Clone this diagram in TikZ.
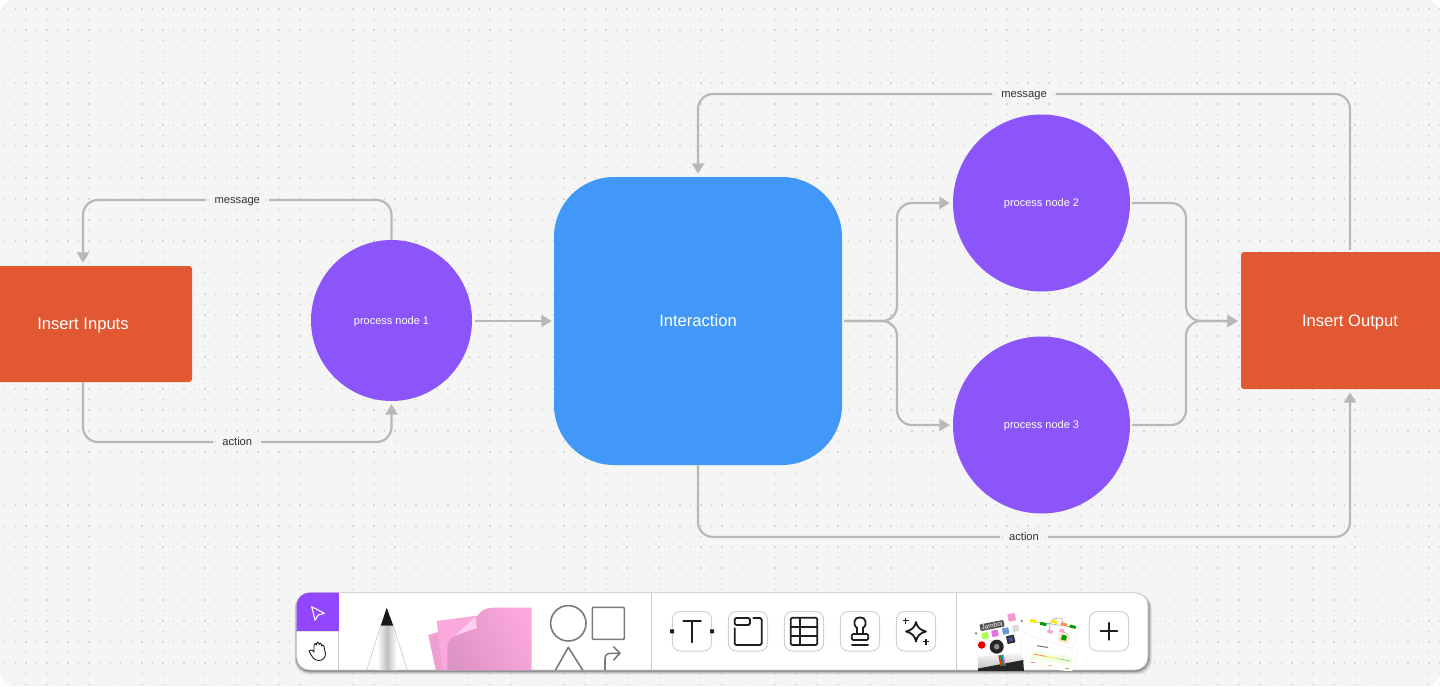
\documentclass[tikz,border=0pt]{standalone}
\usepackage{fontspec}
\setmainfont{Liberation Sans}
\usetikzlibrary{arrows.meta}
\definecolor{bgc}{HTML}{F5F5F5}
\definecolor{dotc}{HTML}{D6D6D6}
\definecolor{linec}{HTML}{B8B8B8}
\definecolor{orangec}{HTML}{E15832}
\definecolor{purplec}{HTML}{8B55F9}
\definecolor{bluec}{HTML}{4298F9}
\definecolor{btnc}{HTML}{9247FF}
\definecolor{iconc}{HTML}{1E1E1E}
\definecolor{shapec}{HTML}{7A7A7A}
\definecolor{pinkc}{HTML}{FBA8DC}
\definecolor{pinkd}{HTML}{DE94C4}
\definecolor{sepc}{HTML}{C8C8C8}
\newcommand{\tile}[6]{\fill[#1,rounded corners=0.6pt,rotate around={#6:(#2,#3)}] ({#2-#4/2},{#3-#5/2}) rectangle ({#2+#4/2},{#3+#5/2});}
\tikzset{
  x=1pt,y=-1pt,
  bigtxt/.style={text=white,text height=11.8pt,text depth=0pt,font=\fontsize{16.6}{18}\selectfont},
  redbox/.style={bigtxt,fill=orangec,rounded corners=3pt,minimum width=218pt,inner xsep=0pt,inner ysep=0pt},
  proc/.style={circle,fill=purplec,inner sep=0pt,text=white,text height=7.8pt,text depth=0pt,font=\fontsize{11}{12}\selectfont},
  centre/.style={bigtxt,rectangle,fill=bluec,rounded corners=60pt,minimum size=288pt,inner sep=0pt},
  conn/.style={draw=linec,line width=2.2pt,rounded corners=15pt,-{Triangle[length=10.5pt,width=12pt]}},
  lbl/.style={fill=bgc,inner xsep=9pt,inner ysep=3pt,text=black!80,text height=7.8pt,text depth=0pt,font=\fontsize{11.2}{12}\selectfont},
  toolbox/.style={draw=black!18,line width=1pt,fill=white,rounded corners=8pt,minimum size=39.4pt,inner sep=0pt},
  ico/.style={draw=iconc,line width=1.8pt,line cap=round,line join=round,rounded corners=1.5pt},
  shp/.style={draw=shapec,line width=1.6pt,line join=round},
}
\begin{document}
\begin{tikzpicture}
\useasboundingbox (0,0) rectangle (1440,686);
\fill[white] (0,0) rectangle (1440,686);
\fill[bgc,rounded corners=14pt] (0,0) rectangle (1440,686);
% dot grid
\foreach \j in {0,...,64}
  \draw[dotc,line width=1.4pt,dash pattern=on 1.4pt off 9.15pt] (4,{9+10.55*\j}) -- (1440,{9+10.55*\j});

% nodes
\node[redbox,minimum height=116pt] (inputs) at (83,324) {Insert Inputs};
\node[redbox,minimum height=137pt] (output) at (1350,320.5) {Insert Output};
\node[proc,minimum size=161pt] (p1) at (391.5,320.5) {process node 1};
\node[centre] (inter) at (698,321) {Interaction};
\node[proc,minimum size=177pt] (p2) at (1041.5,203) {process node 2};
\node[proc,minimum size=177pt] (p3) at (1041.5,425) {process node 3};

% connectors
\path[conn,shorten >=3pt] (p1.north) -- (p1.north |- 0,200)
   -- node[lbl,pos=0.5] {message} (inputs.north |- 0,200) -- (inputs.north);
\path[conn,shorten >=3pt] (inputs.south) -- (inputs.south |- 0,442)
   -- node[lbl,pos=0.5] {action} (p1.south |- 0,442) -- (p1.south);
\path[conn,shorten <=3pt,shorten >=2pt] (p1.east |- inter.west) -- (inter.west);
\coordinate (jl) at (897,321);
\coordinate (jr) at (1186,321);
\path[conn,shorten <=2pt,shorten >=3pt] (inter.east) -- (jl) -- (jl |- p2.west) -- (p2.west);
\path[conn,shorten <=2pt,shorten >=3pt] (inter.east) -- (jl) -- (jl |- p3.west) -- (p3.west);
\path[conn,shorten <=2pt,shorten >=3pt] (p2.east) -- (jr |- p2.east) -- (jr) -- (output.west |- jr);
\path[conn,shorten <=2pt,shorten >=3pt] (p3.east) -- (jr |- p3.east) -- (jr) -- (output.west |- jr);
\path[conn,shorten <=2pt,shorten >=3pt] (output.north) -- (output.north |- 0,94)
   -- node[lbl,pos=0.5] {message} (inter.north |- 0,94) -- (inter.north);
\path[conn,shorten >=3pt] (inter.south) -- (inter.south |- 0,537)
   -- node[lbl,pos=0.5] {action} (output.south |- 0,537) -- (output.south);

% toolbar
\foreach \k/\o in {4/0.06,3/0.10,2/0.14,1/0.25}
  \fill[black,opacity=\o,rounded corners=14pt] (296.5-\k*0.5,594) rectangle (1148+\k,670.5+\k);
\fill[white,rounded corners=13pt] (296.5,592.7) rectangle (1148,670);
\draw[black!22,line width=0.8pt,rounded corners=13pt] (296.5,592.7) rectangle (1148,670);
\begin{scope}
\clip[rounded corners=13pt] (296.5,592.7) rectangle (1148,670);
\fill[btnc] (296,592) rectangle (339,631.7);
% pencil
\begin{scope}
\clip (380.7,625.7) -- (393.3,625.7) -- (407.3,670) -- (366.7,670) -- cycle;
\shade[left color=white,right color=white,middle color=black!25] (377,620) rectangle (397,672);
\end{scope}
\draw[black!22,line width=0.6pt] (380.7,625.7) -- (366.7,670) (393.3,625.7) -- (407.3,670);
\fill[black!90] (386.7,607.7) -- (393.3,625.7) -- (380.7,625.7) -- cycle;
% sticky notes
\fill[pinkc!95!black] (428.3,635) -- (440,631.5) -- (455,671) -- (436,671) -- cycle;
\fill[pinkc] (436.7,621) -- (478,615.5) -- (478,671) -- (442.7,671) -- cycle;
\shade[bottom color=pinkd,top color=pinkc,shading angle=-60] (531.7,607.7) -- (531.7,671) -- (447.3,671) -- (447.3,650)
  .. controls (447.3,640) and (452,636.5) .. (456,636)
  .. controls (470,631) and (474,620) .. (479,614)
  .. controls (482,610) and (486,607.7) .. (492,607.7) -- cycle;
\fill[pinkc!55!white] (455,635.5) -- (475.5,617) .. controls (476,622) and (476.5,625) .. (477,628) -- cycle;
% shapes
\draw[shp] (568.3,623.3) circle (17.7);
\draw[shp,rounded corners=1pt] (592.3,607.3) rectangle (624.3,639.3);
\draw[shp] (555,671) -- (568.3,647.3) -- (583.3,671);
\draw[shp,line cap=round] (605,672) -- (605,659) .. controls (605,655) and (607,653.3) .. (611,653.3) -- (620,653.3)
  (613.7,647) -- (620,653.3) -- (613.7,659.7);
\end{scope}
% dividers
\draw[sepc,line width=1pt] (338.7,631.7) -- (338.7,670) (651.7,593) -- (651.7,670) (956.3,593) -- (956.3,670);
\draw[black!12,line width=0.7pt] (297,631.7) -- (339,631.7);
% cursor & hand
\draw[white,line width=1.1pt,line join=round] (311.7,606.7) -- (324.3,613.3) -- (318.3,615) -- (315,620) -- cycle;
\draw[iconc,line width=0.9pt,line cap=round,line join=round,fill=white]
 (309,651) .. controls (311,649) and (313,650) .. (314,652) -- (314,645)
 .. controls (314,643) and (316.5,643) .. (316.5,645) -- (316.5,643.5)
 .. controls (316.5,641.5) and (319,641.5) .. (319,643.5) -- (319,644.5)
 .. controls (319,642.5) and (321.5,642.5) .. (321.5,644.5) -- (321.5,646)
 .. controls (321.5,644.5) and (324,644.5) .. (324,646.5) -- (325.5,654)
 .. controls (325.5,658) and (322,660.5) .. (319,660.5)
 .. controls (314,660.5) and (312,657) .. (309,651) -- cycle;
% tool boxes
\node[toolbox] (tT) at (692,631.3) {};
\node[toolbox] (tF) at (748,631.3) {};
\node[toolbox] (tG) at (804,631.3) {};
\node[toolbox] (tS) at (860,631.3) {};
\node[toolbox] (tA) at (916,631.3) {};
\node[toolbox] (tP) at (1109,631.3) {};
% T icon
\draw[ico] (683.3,620.7) -- (701,620.7) (692.2,620.7) -- (692.2,642.3);
\fill[iconc] (670,629.3) rectangle (674,633.3) (710,629.3) rectangle (714,633.3);
% frame icon
\draw[ico] (734.7,618) rectangle (750,625);
\draw[ico] (753.3,618) -- (761.7,618) -- (761.7,645) -- (734.7,645) -- (734.7,628.3);
% table icon
\draw[ico] (790.7,617.7) rectangle (817.3,645);
\draw[ico] (790.7,627.3) -- (817.3,627.3) (790.7,636.2) -- (817.3,636.2) (800,617.7) -- (800,645);
% stamp icon
\draw[ico] (857,634) -- (857,629) .. controls (857,628) and (854.5,626.5) .. (854.5,623)
  .. controls (854.5,616) and (865.5,616) .. (865.5,623)
  .. controls (865.5,626.5) and (863,628) .. (863,629) -- (863,634);
\draw[ico] (851.7,634) rectangle (868.3,640);
\draw[ico] (852,645) -- (868,645);
% sparkle icon
\draw[draw=iconc,line width=1.8pt,line join=round] (916,622) .. controls (917,627) and (920,630) .. (926,631.5)
  .. controls (920,633) and (917,636) .. (916,641.5)
  .. controls (915,636) and (912,633) .. (906,631.5)
  .. controls (912,630) and (915,627) .. (916,622) -- cycle;
\draw[iconc,line width=1.5pt] (902.7,620.7) -- (908.7,620.7) (905.7,617.7) -- (905.7,623.7)
  (923,641.7) -- (929,641.7) (926,638.7) -- (926,644.7);
% plus
\draw[iconc,line width=1.8pt,line cap=round] (1100.5,631.3) -- (1117.5,631.3) (1109,622.8) -- (1109,639.8);
% stickers
\begin{scope}
\clip (960,600) rectangle (1085,670);
% report card
\fill[black,opacity=0.04] (1030,643) -- (1079,651) -- (1073,672) -- (1024,664) -- cycle;
\fill[white] (1031,642) -- (1078,650) -- (1072,672) -- (1025,664) -- cycle;
\fill[green!40!yellow!10] (1032,650) -- (1074,657) -- (1072,666) -- (1030,659) -- cycle;
\draw[orange!75!red!80,line width=0.7pt] (1033.3,654) -- (1046,656.4);
\draw[yellow!75!orange!80,line width=0.7pt] (1046,656.4) -- (1058,658.7);
\draw[green!60!black!50,line width=0.7pt] (1058,658.7) -- (1070.7,661);
\fill[black!55] (1037,645.2) -- (1048,647) -- (1048,648) -- (1037,646.2) -- cycle;
\fill[red!50] (1031,661.5) rectangle (1035,662.5);
\fill[orange!60] (1048,665) rectangle (1052,666);
\fill[green!50!black!50] (1065,668) rectangle (1069,669);
% flow card
\fill[black,opacity=0.04] (1030,608) -- (1081,624) -- (1072.5,649.5) -- (1023.5,634) -- cycle;
\fill[white,rounded corners=2pt] (1030,607) -- (1080,623) -- (1071.7,648) -- (1024.3,633) -- cycle;
\draw[black!40,line width=0.45pt,rounded corners=1pt] (1037,622) -- (1072,627) (1050,631) -- (1049,624) -- (1054,618.5) -- (1062,618) -- (1063,624) (1062,631) -- (1068,634) -- (1065,638);
\tile{yellow!85!orange}{1033.3}{621}{6.5}{3}{-15}
\tile{green!60!black}{1043.3}{624}{6.5}{3}{-15}
\tile{yellow!90!orange}{1054}{621.7}{6.5}{3}{-15}
\tile{orange!75!red!70}{1064}{624.3}{6.5}{3}{-15}
\tile{green!60!black}{1072.7}{626.7}{6.5}{3}{-15}
\tile{magenta!35}{1050}{631.7}{5.5}{3.5}{-15}
\tile{magenta!35}{1061.7}{630.7}{4.5}{3.5}{-15}
\tile{orange!20}{1064}{638}{11}{9}{-15}
\tile{green!60!black}{1064}{637.7}{5}{5}{-15}
% camera
\fill[black!10,rounded corners=2pt] (977.3,641.7) -- (1020,637) -- (1024,672) -- (978,672) -- cycle;
\shade[top color=white,bottom color=black!22] (978,655) -- (1021.5,650) -- (1023.5,662) -- (978,668) -- cycle;
\fill[white,rounded corners=1pt] (977.8,642) -- (1019.5,637.5) -- (1021.5,652) -- (978,657) -- cycle;
\fill[black!85] (978,668.5) -- (1023.2,660) -- (1024,672) -- (978,672) -- cycle;
\fill[red!70!orange] (998.3,655.5) -- (999.8,655.3) -- (1002,666) -- (1000.4,666.2) -- cycle;
\fill[green!60!black] (999.8,655.3) -- (1001.3,655.1) -- (1003.4,665.8) -- (1002,666) -- cycle;
\fill[cyan!70!blue] (1001.3,655.1) -- (1002.8,654.9) -- (1004.8,665.6) -- (1003.4,665.8) -- cycle;
\fill[magenta!60] (1002.8,654.9) -- (1003.8,654.8) -- (1005.6,665.5) -- (1004.8,665.6) -- cycle;
\fill[red!90!black] (981.7,645) circle (3.8);
\fill[black!85] (996.7,646.7) circle (7);
\fill[black!45] (996.7,646.7) circle (2.8);
\tile{black!80}{1010.7}{639.3}{8}{8}{12}
\tile{blue!40!gray}{1010.7}{639.3}{3.8}{3.8}{12}
% menu panel
\fill[white,rounded corners=3pt] (975,621.7) -- (1016.7,610) -- (1021.7,630) -- (980,641.7) -- cycle;
\node[fill=black!68,rounded corners=1pt,text=white,inner xsep=1.5pt,inner ysep=1pt,rotate=11,font=\fontsize{6.5}{7}\selectfont] (jam) at (992,625.5) {Jambot};
\tile{magenta!40}{1011.7}{617.3}{7.5}{7.5}{12}
\tile{black!14}{1015.7}{628.3}{6.5}{6.5}{12}
\tile{lime!70!green!70}{985}{635.7}{6.5}{6.5}{12}
\tile{violet!40!magenta!55}{995}{633.3}{6.5}{6.5}{12}
\tile{cyan!50!blue!60}{1005.7}{631}{6.5}{6.5}{12}
\fill[black!55] (1021.7,621) circle (1.2) (976,633.3) circle (1.2);
\end{scope}
\end{tikzpicture}
\end{document}
